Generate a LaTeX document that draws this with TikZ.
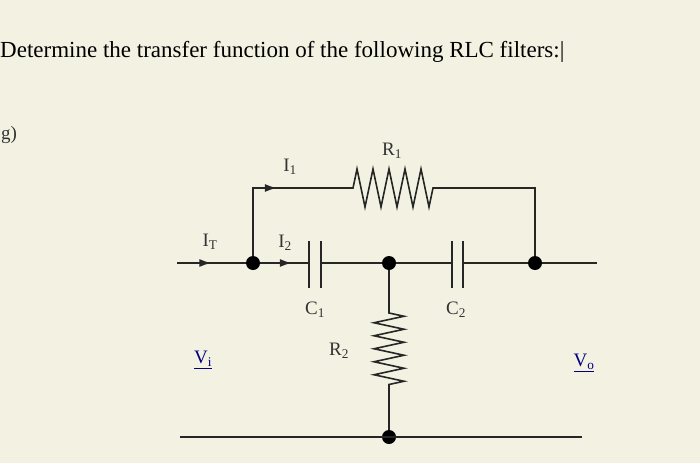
\documentclass[tikz,border=0pt]{standalone}
\usepackage{fontspec}
\setmainfont{Liberation Serif}
\usetikzlibrary{decorations.pathmorphing,decorations.markings,arrows.meta}
\begin{document}
\begin{tikzpicture}[x=1pt,y=-1pt,
  wire/.style={line width=1.6pt,black!85},
  dot/.style={circle,fill=black,inner sep=0pt,minimum size=14pt},
  res/.style={wire,decorate,decoration={zigzag,segment length=16pt,amplitude=19pt,pre length=1pt,post length=1pt}},
  resv/.style={wire,decorate,decoration={zigzag,segment length=13pt,amplitude=15pt,pre length=1pt,post length=1pt}},
  arr/.style={postaction={decorate},decoration={markings,mark=at position #1 with {\arrow{Latex[length=12pt,width=8pt]}}}},
  lbl/.style={font=\fontsize{19}{19}\selectfont,text=black!80}]
\fill[black!6!white!93!yellow] (0,0) rectangle (700,463);
\useasboundingbox (0,0) rectangle (700,463);
\node[anchor=west,font=\fontsize{23}{23}\selectfont,inner sep=0pt] (title) at (0,52) {Determine the transfer function of the following RLC filters:|};
\node[anchor=west,lbl,inner sep=0pt] (g) at (1,135) {g)};
% nodes
\coordinate (in) at (177,263);
\node[dot] (n1) at (253,263) {};
\node[dot] (n2) at (389,263) {};
\node[dot] (n3) at (535,263) {};
\coordinate (out) at (597,263);
\coordinate (t1) at (253,188);
\coordinate (t2) at (535,188);
\coordinate (r1a) at (352,188);
\coordinate (r1b) at (435,188);
\coordinate (c1a) at (309,263);
\coordinate (c1b) at (321,263);
\coordinate (c2a) at (452,263);
\coordinate (c2b) at (463,263);
\coordinate (r2a) at (389,312);
\coordinate (r2b) at (389,390);
\node[dot] (gnd) at (389,437) {};
\coordinate (bl) at (180,437);
\coordinate (br) at (582,437);
% wires
\draw[wire,arr=0.5] (in) -- (n1);
\draw[wire,arr=0.65] (n1) -- (c1a);
\draw[wire] (c1b) -- (n2) -- (c2a);
\draw[wire] (c2b) -- (n3) -- (out);
\draw[wire,arr=0.55] (n1) -- (t1) -- (r1a);
\draw[res] (r1a) -- (r1b);
\draw[wire] (r1b) -- (t2) -- (n3);
\draw[wire] (n2) -- (r2a);
\draw[resv] (r2a) -- (r2b);
\draw[wire] (r2b) -- (gnd);
\draw[wire] (bl) -- (br);
\foreach \x in {309,321,452,463} \draw[wire] (\x,241) -- (\x,288);
% labels
\node[lbl] (lR1) at (392,151) {R\textsubscript{1}};
\node[lbl] (lI1) at (290,167) {I\textsubscript{1}};
\node[lbl] (lIT) at (210,242) {I\textsubscript{T}};
\node[lbl] (lI2) at (285,243) {I\textsubscript{2}};
\node[lbl] (lC1) at (315,310) {C\textsubscript{1}};
\node[lbl] (lC2) at (456,310) {C\textsubscript{2}};
\node[lbl] (lR2) at (339,351) {R\textsubscript{2}};
\node[lbl,text=blue!50!black] (lVi) at (203,360) {\underline{V\textsubscript{i}}};
\node[lbl,text=blue!50!black] (lVo) at (584,363) {\underline{V\textsubscript{o}}};
\end{tikzpicture}
\end{document}
